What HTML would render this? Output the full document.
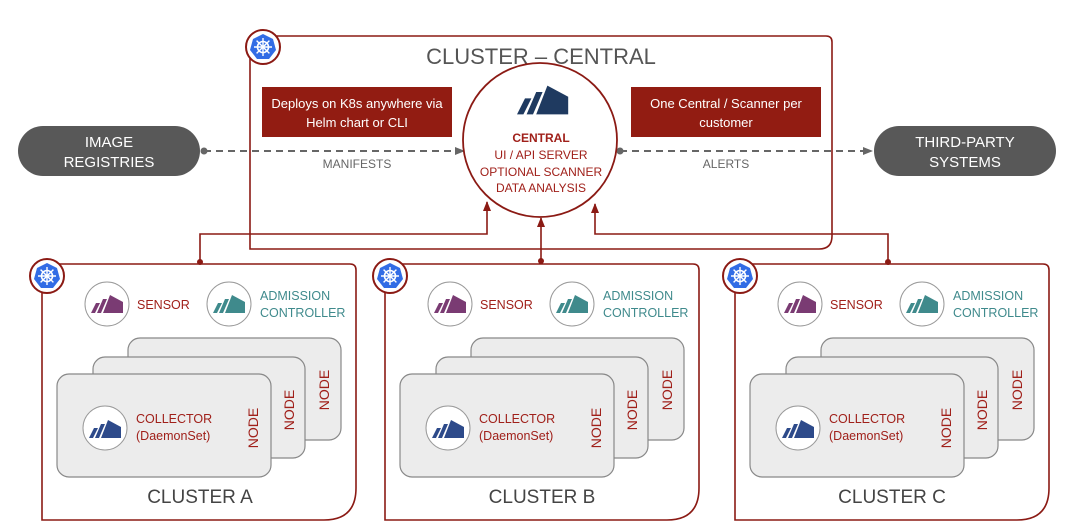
<!DOCTYPE html>
<html><head><meta charset="utf-8"><style>
html,body{margin:0;padding:0;background:#fff;}
svg{display:block;font-family:"Liberation Sans",sans-serif;}
</style></head><body>
<svg width="1068" height="529" viewBox="0 0 1068 529" xmlns="http://www.w3.org/2000/svg">
<defs>
  <g id="logo">
    <polygon points="-15,9 -10,-1 -6,-1 -11,9" />
    <polygon points="-9,9 -3,-5 1,-5 -5,9" />
    <polygon points="-3,9 4,-9 17,-2 17,9" />
  </g>
  <g id="kube">
    <circle r="17" fill="#fff" stroke="#8b1a14" stroke-width="2"/>
    <polygon points="0,-13 10,-8 13,3 6,12 -6,12 -13,3 -10,-8" fill="#326ce5"/>
    <circle r="5.5" fill="none" stroke="#fff" stroke-width="1.6"/>
    <g stroke="#fff" stroke-width="1.4">
      <line x1="0" y1="-9" x2="0" y2="9"/><line x1="-9" y1="0" x2="9" y2="0"/>
      <line x1="-6.4" y1="-6.4" x2="6.4" y2="6.4"/><line x1="-6.4" y1="6.4" x2="6.4" y2="-6.4"/>
    </g>
  </g>
  <marker id="ar" markerWidth="10" markerHeight="10" refX="9" refY="5" orient="auto" markerUnits="userSpaceOnUse">
    <path d="M0,1 L10,5 L0,9 z" fill="#666"/></marker>
  <marker id="arr" markerWidth="10" markerHeight="10" refX="9" refY="5" orient="auto" markerUnits="userSpaceOnUse">
    <path d="M0,1 L10,5 L0,9 z" fill="#8b1a14"/></marker>
  <g id="cluster">
    <path d="M42,270 Q42,264 48,264 L350,264 Q356,264 356,270 L356,488 Q356,520 324,520 L42,520 Z" fill="#fff" stroke="#8b1a14" stroke-width="1.6"/>
    <use href="#kube" x="47" y="276"/>
    <circle cx="107" cy="304" r="22" fill="#fff" stroke="#999" stroke-width="1"/>
    <use href="#logo" x="106" y="304" fill="#7a3b73"/>
    <text x="137" y="309" font-size="12.5" fill="#a0201a">SENSOR</text>
    <circle cx="229" cy="304" r="22" fill="#fff" stroke="#999" stroke-width="1"/>
    <use href="#logo" x="228" y="304" fill="#3f8a8c"/>
    <text x="260" y="300" font-size="12.5" fill="#3f8a8c">ADMISSION</text>
    <text x="260" y="317" font-size="12.5" fill="#3f8a8c">CONTROLLER</text>
    <rect x="128" y="338" width="213" height="102" rx="12" fill="#ececec" stroke="#888" stroke-width="1.2"/>
    <rect x="93" y="357" width="212" height="101" rx="12" fill="#ececec" stroke="#888" stroke-width="1.2"/>
    <rect x="57" y="374" width="214" height="103" rx="12" fill="#ececec" stroke="#888" stroke-width="1.2"/>
    <text transform="translate(329,390) rotate(-90)" text-anchor="middle" font-size="14" fill="#a0201a">NODE</text>
    <text transform="translate(294,410) rotate(-90)" text-anchor="middle" font-size="14" fill="#a0201a">NODE</text>
    <text transform="translate(258,428) rotate(-90)" text-anchor="middle" font-size="14" fill="#a0201a">NODE</text>
    <circle cx="105" cy="428" r="22" fill="#fff" stroke="#999" stroke-width="1"/>
    <use href="#logo" x="104" y="429" fill="#2d4a8a"/>
    <text x="136" y="423" font-size="12.5" fill="#a0201a">COLLECTOR</text>
    <text x="136" y="440" font-size="12.5" fill="#a0201a">(DaemonSet)</text>
  </g>
</defs>

<path d="M250,36 L826,36 Q832,36 832,42 L832,236 Q832,249 819,249 L250,249 Z" fill="#fff" stroke="#8b1a14" stroke-width="1.6"/>
<use href="#kube" x="263" y="47"/>
<text x="541" y="64" text-anchor="middle" font-size="22" fill="#555">CLUSTER – CENTRAL</text>
<rect x="262" y="87" width="190" height="50" fill="#921c12"/>
<text x="357" y="108" text-anchor="middle" font-size="13" fill="#fff">Deploys on K8s anywhere via</text>
<text x="357" y="127" text-anchor="middle" font-size="13" fill="#fff">Helm chart or CLI</text>
<rect x="631" y="87" width="190" height="50" fill="#921c12"/>
<text x="726" y="108" text-anchor="middle" font-size="13" fill="#fff">One Central / Scanner per</text>
<text x="726" y="127" text-anchor="middle" font-size="13" fill="#fff">customer</text>

<rect x="18" y="126" width="182" height="50" rx="25" fill="#585858"/>
<text x="109" y="147" text-anchor="middle" font-size="15" fill="#fff">IMAGE</text>
<text x="109" y="167" text-anchor="middle" font-size="15" fill="#fff">REGISTRIES</text>
<rect x="874" y="126" width="182" height="50" rx="25" fill="#585858"/>
<text x="965" y="147" text-anchor="middle" font-size="15" fill="#fff">THIRD-PARTY</text>
<text x="965" y="167" text-anchor="middle" font-size="15" fill="#fff">SYSTEMS</text>

<circle cx="204" cy="151" r="3.5" fill="#666"/>
<line x1="204" y1="151" x2="464" y2="151" stroke="#666" stroke-width="2" stroke-dasharray="7,5" marker-end="url(#ar)"/>
<text x="357" y="168" text-anchor="middle" font-size="12" fill="#666">MANIFESTS</text>
<circle cx="620" cy="151" r="3.5" fill="#666"/>
<line x1="620" y1="151" x2="872" y2="151" stroke="#666" stroke-width="2" stroke-dasharray="7,5" marker-end="url(#ar)"/>
<text x="726" y="168" text-anchor="middle" font-size="12" fill="#666">ALERTS</text>

<circle cx="540" cy="140" r="77" fill="#fff" stroke="#8b1a14" stroke-width="1.8"/>
<g transform="translate(541,100) scale(1.6)"><use href="#logo" fill="#1f3a60"/></g>
<text x="541" y="142" text-anchor="middle" font-size="12" font-weight="bold" fill="#a0201a">CENTRAL</text>
<text x="541" y="159" text-anchor="middle" font-size="12" fill="#a0201a">UI / API SERVER</text>
<text x="541" y="176" text-anchor="middle" font-size="12" fill="#a0201a">OPTIONAL SCANNER</text>
<text x="541" y="192" text-anchor="middle" font-size="12" fill="#a0201a">DATA ANALYSIS</text>

<use href="#cluster"/>
<use href="#cluster" x="343"/>
<use href="#cluster" x="693"/>
<text x="200" y="503" text-anchor="middle" font-size="19" fill="#444">CLUSTER A</text>
<text x="542" y="503" text-anchor="middle" font-size="19" fill="#444">CLUSTER B</text>
<text x="892" y="503" text-anchor="middle" font-size="19" fill="#444">CLUSTER C</text>

<g fill="none" stroke="#8b1a14" stroke-width="1.6">
<polyline points="200,262 200,234 487,234 487,202" marker-end="url(#arr)"/>
<polyline points="541,262 541,218" marker-end="url(#arr)"/>
<polyline points="888,262 888,234 595,234 595,204" marker-end="url(#arr)"/>
</g>
<circle cx="200" cy="262" r="3" fill="#8b1a14"/>
<circle cx="541" cy="261" r="3" fill="#8b1a14"/>
<circle cx="888" cy="262" r="3" fill="#8b1a14"/>
</svg>
</body></html>
